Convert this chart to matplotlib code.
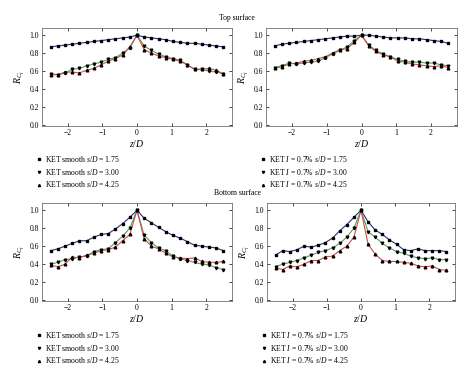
import numpy as np
import matplotlib
matplotlib.use("Agg")
import matplotlib.pyplot as plt

plt.rcParams['font.family'] = ['Liberation Serif', 'DejaVu Serif']
plt.rcParams['mathtext.fontset'] = 'custom'
plt.rcParams['mathtext.it'] = 'Liberation Serif:italic'
plt.rcParams['mathtext.rm'] = 'Liberation Serif'

# z/D positions (25 stations)
z = np.linspace(-2.5, 2.5, 25)

# top surface, smooth
tl_175 = [0.87, 0.88, 0.89, 0.90, 0.91, 0.92, 0.93, 0.94, 0.95, 0.96, 0.97, 0.98, 1.00,
          0.98, 0.97, 0.96, 0.95, 0.93, 0.92, 0.91, 0.91, 0.90, 0.89, 0.88, 0.87]
tl_300 = [0.57, 0.56, 0.58, 0.62, 0.63, 0.66, 0.68, 0.70, 0.73, 0.75, 0.80, 0.86, 1.00,
          0.88, 0.83, 0.79, 0.76, 0.74, 0.72, 0.67, 0.62, 0.62, 0.60, 0.59, 0.57]
tl_425 = [0.56, 0.56, 0.59, 0.59, 0.58, 0.61, 0.63, 0.67, 0.71, 0.74, 0.78, 0.87, 1.00,
          0.84, 0.80, 0.77, 0.75, 0.73, 0.71, 0.67, 0.62, 0.62, 0.63, 0.61, 0.57]

# top surface, I = 0.7%
tr_175 = [0.88, 0.90, 0.91, 0.92, 0.93, 0.94, 0.95, 0.96, 0.97, 0.98, 0.99, 0.99, 1.00,
          1.00, 0.99, 0.98, 0.97, 0.97, 0.97, 0.96, 0.96, 0.95, 0.94, 0.93, 0.91]
tr_300 = [0.64, 0.66, 0.69, 0.68, 0.69, 0.70, 0.71, 0.75, 0.79, 0.83, 0.87, 0.94, 1.00,
          0.89, 0.83, 0.79, 0.76, 0.73, 0.71, 0.70, 0.70, 0.69, 0.69, 0.67, 0.66]
tr_425 = [0.63, 0.65, 0.68, 0.69, 0.71, 0.72, 0.74, 0.76, 0.80, 0.84, 0.85, 0.92, 1.00,
          0.88, 0.82, 0.78, 0.76, 0.71, 0.70, 0.68, 0.67, 0.66, 0.65, 0.66, 0.64]

# bottom surface, smooth
bl_175 = [0.55, 0.57, 0.60, 0.63, 0.66, 0.66, 0.70, 0.73, 0.74, 0.79, 0.85, 0.92, 1.00,
          0.91, 0.86, 0.81, 0.76, 0.72, 0.69, 0.65, 0.61, 0.60, 0.59, 0.58, 0.55]
bl_300 = [0.40, 0.42, 0.45, 0.46, 0.48, 0.49, 0.54, 0.56, 0.57, 0.64, 0.71, 0.80, 1.00,
          0.72, 0.64, 0.58, 0.55, 0.49, 0.46, 0.44, 0.42, 0.40, 0.39, 0.36, 0.34]
bl_425 = [0.39, 0.37, 0.40, 0.48, 0.47, 0.50, 0.52, 0.55, 0.56, 0.59, 0.66, 0.73, 1.00,
          0.68, 0.60, 0.57, 0.52, 0.48, 0.47, 0.46, 0.47, 0.43, 0.42, 0.42, 0.43]

# bottom surface, I = 0.7%
br_175 = [0.50, 0.55, 0.54, 0.56, 0.60, 0.59, 0.61, 0.64, 0.69, 0.77, 0.84, 0.92, 1.00,
          0.87, 0.78, 0.73, 0.67, 0.62, 0.56, 0.55, 0.57, 0.55, 0.55, 0.55, 0.54]
br_300 = [0.37, 0.40, 0.42, 0.44, 0.47, 0.50, 0.53, 0.55, 0.58, 0.63, 0.70, 0.80, 1.00,
          0.76, 0.70, 0.63, 0.58, 0.54, 0.52, 0.49, 0.47, 0.46, 0.47, 0.45, 0.45]
br_425 = [0.36, 0.34, 0.38, 0.37, 0.40, 0.44, 0.44, 0.48, 0.49, 0.55, 0.60, 0.70, 1.00,
          0.62, 0.51, 0.44, 0.43, 0.43, 0.42, 0.41, 0.38, 0.37, 0.38, 0.34, 0.33]

labels_smooth = [r'KET smooth $s/D$ = 1.75', r'KET smooth $s/D$ = 3.00', r'KET smooth $s/D$ = 4.25']
labels_ti = [r'KET $I$ = 0.7% $s/D$ = 1.75', r'KET $I$ = 0.7% $s/D$ = 3.00', r'KET $I$ = 0.7% $s/D$ = 4.25']

colors = ['#28307a', '#5c9e5c', '#c8504a']
markers = ['s', 'v', '^']

W, H = 474, 375
fig = plt.figure(figsize=(W / 100, H / 100), dpi=100)


def px_axes(x0, y0, x1, y1):
    return fig.add_axes([x0 / W, 1 - y1 / H, (x1 - x0) / W, (y1 - y0) / H])


panels = [
    ((42, 28, 232, 126), (tl_175, tl_300, tl_425), labels_smooth, 157),
    ((266, 28, 457, 126), (tr_175, tr_300, tr_425), labels_ti, 157),
    ((42, 203, 232, 301), (bl_175, bl_300, bl_425), labels_smooth, 333),
    ((267, 203, 455, 301), (br_175, br_300, br_425), labels_ti, 333),
]

for box, series, labs, leg_y in panels:
    ax = px_axes(*box)
    handles = []
    for ys, c, m in zip(series, colors, markers):
        ax.plot(z, ys, color=c, lw=0.8, zorder=2)
        ax.plot(z, ys, ls='none', marker=m, ms=1.9, color='black', zorder=3)
        handles.append(plt.Line2D([], [], ls='none', marker=m, ms=1.6, color='black'))
    ax.set_xlim(-2.75, 2.75)
    ax.set_ylim(-0.01, 1.08)
    ax.set_xticks([-2, -1, 0, 1, 2])
    ax.set_yticks([0.0, 0.2, 0.4, 0.6, 0.8, 1.0])
    ax.set_yticklabels(['0.0', '0.2', '0.4', '0.6', '0.8', '1.0'])
    ax.set_xticklabels(['\u22122', '\u22121', '0', '1', '2'])
    ax.tick_params(direction='in', length=2, width=0.5, labelsize=5.5,
                   top=True, right=True, pad=2)
    for s in ax.spines.values():
        s.set_linewidth(0.5)
        s.set_color('#555555')
    ax.set_xlabel(r'$z/D$', fontsize=7, labelpad=1)
    ax.set_ylabel(r'$R_{C_f}$', fontsize=7, labelpad=2)
    fig.legend(handles, labs, loc='upper left',
               bbox_to_anchor=((box[0] - 9) / W, 1 - (leg_y - 6) / H),
               frameon=False, fontsize=5.5, handlelength=0.8, handletextpad=0.4,
               labelspacing=0.35, borderaxespad=0)

fig.text(0.5, 1 - 18 / H, 'Top surface', ha='center', va='center', fontsize=5.5)
fig.text(0.5, 1 - 193 / H, 'Bottom surface', ha='center', va='center', fontsize=5.5)

fig.savefig('out.png', dpi=100)
